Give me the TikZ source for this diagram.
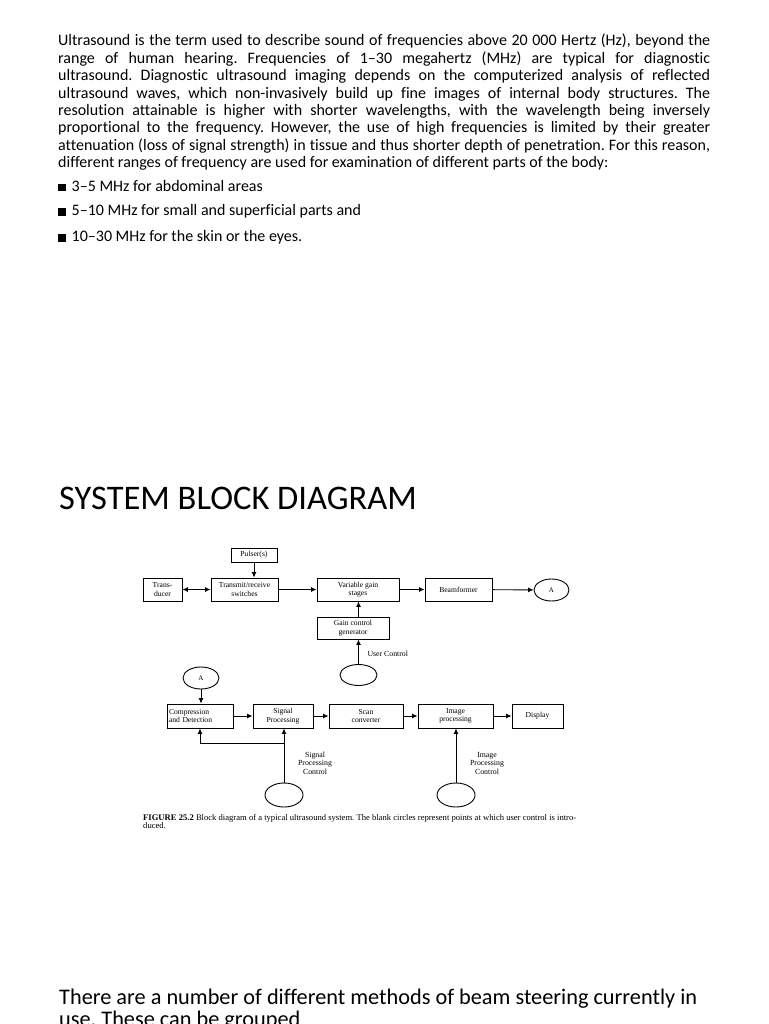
\documentclass[tikz,border=0pt]{standalone}
\usepackage{fontspec}
\setmainfont{Carlito}[Ligatures={NoCommon}]
\newfontfamily\scanfont{Liberation Serif}
\usetikzlibrary{arrows.meta, shapes, positioning, calc}

\begin{document}
\frenchspacing
\begin{tikzpicture}[x=1pt, y=-1pt,
    blk/.style={rectangle, draw, line width=0.9pt, inner sep=1pt, minimum height=23pt, font=\scanfont\fontsize{7.6}{8.4}\selectfont, align=center},
    ctl/.style={ellipse, draw, line width=0.9pt, inner sep=0pt, font=\scanfont\fontsize{7}{8}\selectfont},
    lbl/.style={font=\scanfont\fontsize{7.8}{8.5}\selectfont, align=center},
    con/.style={-{Latex[length=5.5pt, width=5pt]}, line width=0.9pt}]

	\clip (0,0) rectangle (768,1024);
	\fill[white] (0,0) rectangle (768,1024);

	% page text
	\node[anchor=north west, inner sep=0pt, text width=652pt, align=justify, font=\fontsize{16}{17.4}\selectfont] (para) at (58,34) {Ultrasound is the term used to describe sound of frequencies above 20 000 Hertz (Hz), beyond the\linebreak
	range of human hearing. Frequencies of 1--30 megahertz (MHz) are typical for diagnostic\linebreak
	ultrasound. Diagnostic ultrasound imaging depends on the computerized analysis of reflected\linebreak
	ultrasound waves, which non-invasively build up fine images of internal body structures. The\linebreak
	resolution attainable is higher with shorter wavelengths, with the wavelength being inversely\linebreak
	proportional to the frequency. However, the use of high frequencies is limited by their greater\linebreak
	attenuation (loss of signal strength) in tissue and thus shorter depth of penetration. For this reason,\linebreak
	different ranges of frequency are used for examination of different parts of the body:};
	\node[anchor=base west, inner sep=0pt, font=\fontsize{16}{17}\selectfont] (b1) at (58,191.5) {\rule{7.5pt}{7.5pt}\hspace{6pt}3--5 MHz for abdominal areas};
	\node[anchor=base west, inner sep=0pt, font=\fontsize{16}{17}\selectfont] (b2) at (58,216) {\rule{7.5pt}{7.5pt}\hspace{6pt}5--10 MHz for small and superficial parts and};
	\node[anchor=base west, inner sep=0pt, font=\fontsize{16}{17}\selectfont] (b3) at (58,241.5) {\rule{7.5pt}{7.5pt}\hspace{6pt}10--30 MHz for the skin or the eyes.};

	\node[anchor=base west, inner sep=0pt, font=\fontsize{34.5}{40}\selectfont] (title) at (59,509) {SYSTEM BLOCK DIAGRAM};

	% upper chain
	\node[blk, minimum width=46pt, minimum height=14pt] (pulser) at (254,555) {Pulser(s)};
	\node[blk, minimum width=39pt] (xdcr) at (162.5,589.5) {Trans-\\ducer};
	\node[blk, minimum width=67pt] (trx) at (244.5,589.5) {Transmit/receive\\switches};
	\node[blk, minimum width=82pt] (vga) at (358,589.5) {Variable gain\\stages};
	\node[blk, minimum width=67pt] (beam) at (458.5,589.5) {Beamformer};
	\node[ctl, minimum width=35pt, minimum height=22pt] (ca1) at (551.5,590) {A};
	\node[blk, minimum width=72pt, minimum height=22pt] (gcg) at (353,628) {Gain control\\generator};
	\node[ctl, minimum width=37pt, minimum height=21pt] (uc) at (358.5,675) {};
	\node[lbl, anchor=west] (uctxt) at (364,654) {User Control};

	\draw[con] (pulser.south) -- (pulser.south |- trx.north);
	\draw[{Latex[length=5.5pt, width=5pt]}-{Latex[length=5.5pt, width=5pt]}, line width=0.9pt] (xdcr) -- (trx);
	\draw[con] (trx) -- (vga);
	\draw[con] (vga) -- (beam);
	\draw[con] (beam) -- (ca1);
	\draw[con] (uc.north) -- (uc.north |- gcg.south);
	\draw[con] (uc.north |- gcg.north) -- (uc.north |- vga.south);

	% lower chain
	\node[ctl, minimum width=36pt, minimum height=22pt] (ca2) at (201,678) {A};
	\node[blk, minimum width=66pt, minimum height=24pt, text width=62pt, align=left] (cd) at (200,716) {Compression\\and Detection};
	\node[blk, minimum width=60pt, minimum height=24pt] (sp) at (283,716) {Signal\\Processing};
	\node[blk, minimum width=74pt, minimum height=24pt] (sc) at (366,716) {Scan\\converter};
	\node[blk, minimum width=75pt, minimum height=24pt] (ip) at (455.5,716) {Image\\processing};
	\node[blk, minimum width=51pt, minimum height=24pt] (disp) at (537.5,716) {Display};
	\node[ctl, minimum width=38pt, minimum height=24pt] (spc) at (284,795) {};
	\node[ctl, minimum width=38pt, minimum height=24pt] (ipc) at (456,795) {};
	\node[lbl] (spctxt) at (315,763) {Signal\\Processing\\Control};
	\node[lbl] (ipctxt) at (487,763) {Image\\Processing\\Control};
	\coordinate (br) at (284,743);

	\draw[con] (ca2.south) -- (ca2.south |- cd.north);
	\draw[con] (cd) -- (sp);
	\draw[con] (sp) -- (sc);
	\draw[con] (sc) -- (ip);
	\draw[con] (ip) -- (disp);
	\draw[con] (spc.north) -- (spc.north |- sp.south);
	\draw[con] (br) -| (cd.south);
	\draw[con] (ipc.north) -- (ipc.north |- ip.south);

	\node[anchor=north west, inner sep=0pt, align=left, font=\scanfont\fontsize{8.6}{8}\selectfont] (cap) at (143,814) {\textbf{FIGURE 25.2} Block diagram of a typical ultrasound system. The blank circles represent points at which user control is intro-\\duced.};

	\node[anchor=base west, inner sep=0pt, align=left, font=\fontsize{22.3}{22}\selectfont] (tail) at (59,1026) {There are a number of different methods of beam steering currently in\\use. These can be grouped};
\end{tikzpicture}
\end{document}
